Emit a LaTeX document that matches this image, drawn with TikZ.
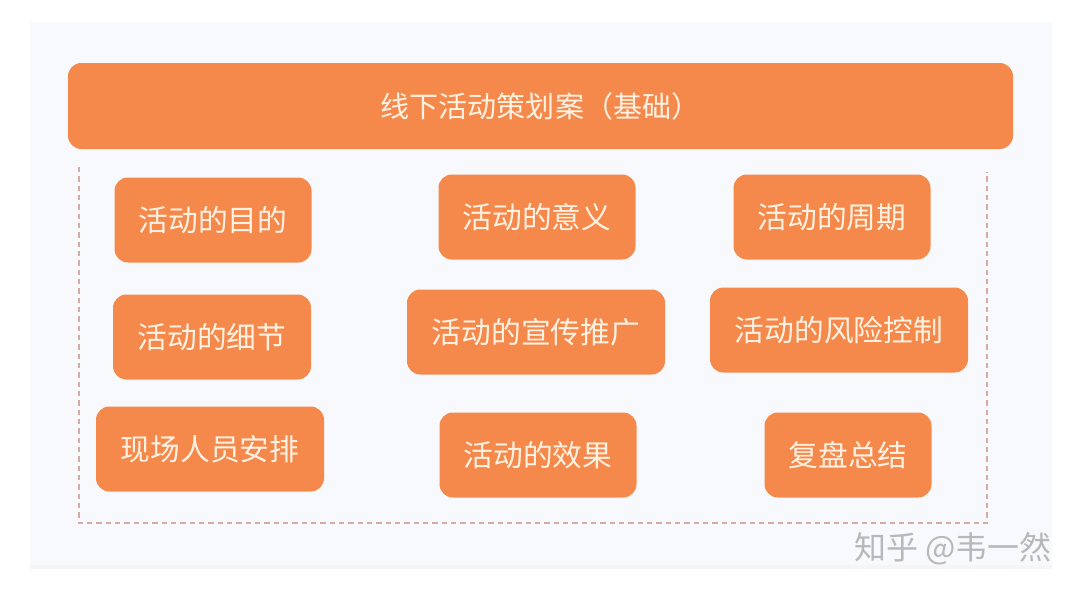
\documentclass[tikz,border=0pt]{standalone}
\usepackage{fontspec}
\setmainfont{Noto Sans CJK SC}
\usetikzlibrary{positioning,shadows}

\definecolor{planorange}{HTML}{F5894B}
\definecolor{plantext}{HTML}{FFF2E3}
\definecolor{planpanel}{HTML}{F7F9FC}
\definecolor{plandash}{HTML}{D6ABA3}

\tikzset{
    item/.style={fill=planorange, text=plantext, rounded corners=10pt,
        minimum height=63.75pt, inner sep=0pt, font=\fontsize{22.3}{26}\selectfont},
}

\begin{document}
\begin{tikzpicture}[x=0.75pt, y=-0.75pt]
    \useasboundingbox (0,0) rectangle (1080,594);
    \fill[white] (0,0) rectangle (1080,594);
    % Panel
    \fill[planpanel, drop shadow={opacity=0.08, shadow xshift=0pt, shadow yshift=-3pt}]
        (30,22) rectangle (1052,565);
    % Title bar
    \node[item, minimum width=708.75pt, minimum height=64.5pt, font=\fontsize{21.8}{26}\selectfont]
        (title) at (540.5,106) {线下活动策划案（基础）};
    % Dashed frame
    \coordinate (tl) at (79,167);
    \coordinate (bl) at (79,523);
    \coordinate (br) at (987,523);
    \coordinate (tr) at (987,172);
    \draw[plandash, line width=1pt, dash pattern=on 4pt off 3pt] (tl) -- (bl) -- (br) -- (tr);
    % Items
    \foreach \name/\x/\y/\w/\txt in {
        aim/213/220/197/活动的目的,
        meaning/537/217/197/活动的意义,
        cycle/832/217/197/活动的周期,
        detail/212/337/198/活动的细节,
        promo/536/332/258/活动的宣传推广,
        risk/839/330/258/活动的风险控制,
        staff/210/449/228/现场人员安排,
        effect/538/455/197/活动的效果,
        review/848/455/167/复盘总结} {
        \node[item, minimum width=0.75*\w pt] (\name) at (\x,\y) {\txt};
    }
    % Watermark
    \node[text=black!28, font=\fontsize{24}{28}\selectfont, anchor=east, inner sep=0pt] (mark) at (1052,549) {知乎 @韦一然};
\end{tikzpicture}
\end{document}
